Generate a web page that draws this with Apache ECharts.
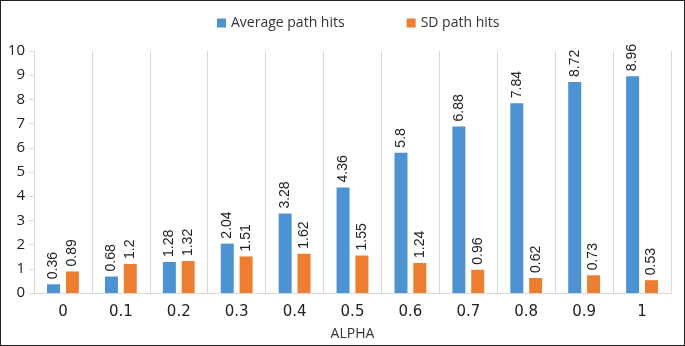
<!DOCTYPE html>
<html>
<head>
<meta charset="utf-8">
<script src="https://cdn.jsdelivr.net/npm/echarts@6/dist/echarts.min.js"></script>
<style>
html, body { margin:0; padding:0; background:#fff; }
#chart { width:685px; height:346px; box-sizing:border-box; border:1px solid #222; }
</style>
</head>
<body>
<div id="chart"></div>
<script>
var alpha = ['0', '0.1', '0.2', '0.3', '0.4', '0.5', '0.6', '0.7', '0.8', '0.9', '1'];
var avgHits = [0.36, 0.68, 1.28, 2.04, 3.28, 4.36, 5.8, 6.88, 7.84, 8.72, 8.96];
var sdHits = [0.89, 1.2, 1.32, 1.51, 1.62, 1.55, 1.24, 0.96, 0.62, 0.73, 0.53];

var chart = echarts.init(document.getElementById('chart'));
var lbl = {
	show: true,
	position: 'top',
	rotate: 90,
	align: 'left',
	verticalAlign: 'middle',
	distance: 5,
	color: '#222',
	fontSize: 14,
	fontFamily: 'Liberation Sans'
};
chart.setOption({
	animation: false,
	legend: {
		top: 10,
		left: 211,
		itemWidth: 9,
		itemHeight: 9,
		itemGap: 62,
		icon: 'rect',
		textStyle: { fontSize: 14, color: '#333', fontFamily: 'Open Sans' },
		data: ['Average path hits', 'SD path hits']
	},
	grid: { left: 33, right: 13, top: 50, bottom: 52, outerBoundsMode: 'none' },
	xAxis: {
		type: 'category',
		data: alpha,
		name: 'ALPHA',
		nameLocation: 'middle',
		nameGap: 34,
		nameTextStyle: { fontSize: 14, color: '#333', fontFamily: 'Open Sans' },
		axisLine: { lineStyle: { color: '#d9d9d9' } },
		axisTick: { show: false },
		axisLabel: { margin: 12, fontSize: 15, color: '#222', fontFamily: 'DejaVu Sans' },
		splitLine: { show: true, lineStyle: { color: '#d9d9d9' } }
	},
	yAxis: {
		type: 'value',
		min: 0,
		max: 10,
		interval: 1,
		axisLine: { show: true, lineStyle: { color: '#d9d9d9' } },
		axisTick: { show: true, length: 5, lineStyle: { color: '#d9d9d9' } },
		axisLabel: { margin: 9, fontSize: 15, color: '#222', fontFamily: 'Open Sans' },
		splitLine: { show: false }
	},
	series: [
		{
			name: 'Average path hits',
			type: 'bar',
			data: avgHits,
			barWidth: 13,
			barGap: '45%',
			itemStyle: { color: '#4e93d1' },
			label: lbl
		},
		{
			name: 'SD path hits',
			type: 'bar',
			data: sdHits,
			barWidth: 13,
			itemStyle: { color: '#ed7d31' },
			label: lbl
		}
	]
});
</script>
</body>
</html>
